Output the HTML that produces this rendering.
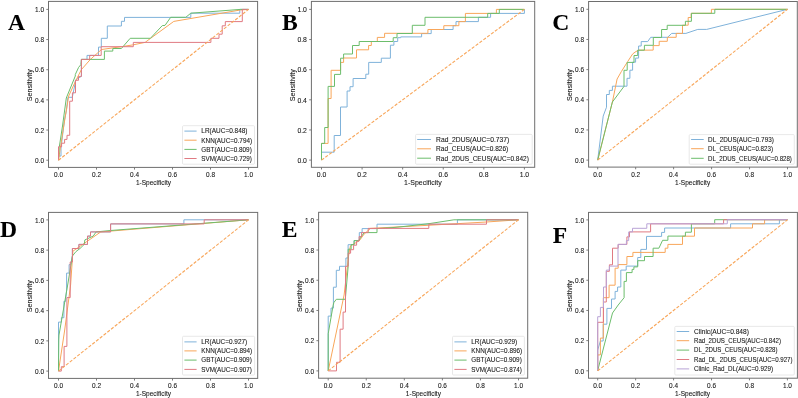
<!DOCTYPE html>
<html><head><meta charset="utf-8"><style>
html,body{margin:0;padding:0;background:#fff;width:798px;height:398px;overflow:hidden}
svg{display:block;will-change:transform}
text{font-family:"Liberation Sans",sans-serif;font-size:6.7px;fill:#151515;stroke:#151515;stroke-width:0.08px}
text.big{font-family:"Liberation Serif",serif;font-weight:bold;font-size:23.6px;fill:#000}
</style></head><body>
<svg width="798" height="398" viewBox="0 0 798 398">
<path d="M58.5,160.2 L58.5,156.0 L61.0,156.0 L61.0,148.0 L62.5,136.0 L64.5,120.0 L66.5,110.0 L67.9,97.3 L72.3,97.3 L74.6,86.0 L75.4,80.3 L78.5,78.0 L81.4,76.4 L81.4,59.4 L87.0,59.4 L87.0,55.4 L98.5,55.4 L98.5,47.1 L101.3,47.1 L101.3,38.3 L107.3,38.3 L107.3,26.0 L121.4,26.0 L121.4,21.3 L124.5,21.3 L124.5,17.4 L190.8,17.4 L190.8,13.2 L239.8,13.2 L239.8,9.4 L248.5,9.4" fill="none" stroke="#7fb2da" stroke-width="1" stroke-linejoin="miter"/>
<path d="M58.5,160.2 L63.4,128.0 L68.7,96.0 L75.6,81.0 L81.4,69.6 L90.4,59.4 L101.5,49.5 L121.4,46.7 L132.8,44.9 L145.1,42.4 L150.5,38.4 L173.8,21.4 L240.4,10.0 L248.5,9.4" fill="none" stroke="#f8a65a" stroke-width="1" stroke-linejoin="miter"/>
<path d="M58.5,160.2 L59.2,147.5 L62.5,126.0 L66.3,98.0 L75.3,76.0 L75.3,74.5 L78.6,67.4 L80.9,64.6 L81.4,59.4 L104.4,59.4 L104.4,51.1 L112.8,51.1 L112.8,48.5 L121.4,48.5 L130.2,38.3 L150.4,38.3 L162.3,25.6 L165.0,25.4 L170.7,17.3 L185.8,17.3 L190.8,13.2 L240.4,9.4 L248.5,9.4" fill="none" stroke="#6cbd6c" stroke-width="1" stroke-linejoin="miter"/>
<path d="M58.5,160.2 L58.5,146.8 L61.6,146.8 L61.6,143.2 L64.6,143.2 L64.6,139.4 L67.0,139.4 L67.0,135.3 L69.7,135.3 L69.7,101.2 L72.4,101.2 L72.4,92.8 L75.5,92.8 L75.5,80.3 L78.5,80.3 L78.5,76.4 L81.4,76.4 L81.4,59.4 L89.7,59.4 L89.7,55.4 L101.2,55.4 L101.2,46.7 L133.3,46.7 L133.3,42.4 L210.9,42.4 L210.9,38.3 L219.0,38.3 L219.0,34.2 L222.2,34.2 L222.2,25.8 L225.3,25.8 L225.3,21.6 L242.3,21.6 L242.3,9.4 L248.5,9.4" fill="none" stroke="#e07a82" stroke-width="1" stroke-linejoin="miter"/>
<line x1="58.50" y1="160.20" x2="248.50" y2="9.40" stroke="#f8a65a" stroke-width="1.1" stroke-dasharray="3.2,1.6"/>
<rect x="182.5" y="125.7" width="72.0" height="38.5" rx="1" fill="#fff" fill-opacity="0.8" stroke="#e2e2e2" stroke-width="0.8"/>
<line x1="184.4" y1="131.1" x2="196.6" y2="131.1" stroke="#7fb2da" stroke-width="1"/>
<text x="201.3" y="133.4" textLength="46.2" lengthAdjust="spacingAndGlyphs">LR(AUC=0.848)</text>
<line x1="184.4" y1="140.2" x2="196.6" y2="140.2" stroke="#f8a65a" stroke-width="1"/>
<text x="201.3" y="142.5" textLength="50.8" lengthAdjust="spacingAndGlyphs">KNN(AUC=0.794)</text>
<line x1="184.4" y1="149.4" x2="196.6" y2="149.4" stroke="#6cbd6c" stroke-width="1"/>
<text x="201.3" y="151.7" textLength="50.5" lengthAdjust="spacingAndGlyphs">GBT(AUC=0.809)</text>
<line x1="184.4" y1="158.5" x2="196.6" y2="158.5" stroke="#e07a82" stroke-width="1"/>
<text x="201.3" y="160.8" textLength="50.5" lengthAdjust="spacingAndGlyphs">SVM(AUC=0.729)</text>
<rect x="48.5" y="1.4" width="209.1" height="166.0" fill="none" stroke="#6e6e6e" stroke-width="1"/>
<line x1="46.3" y1="160.20" x2="48.5" y2="160.20" stroke="#6e6e6e" stroke-width="0.9"/>
<line x1="58.50" y1="167.4" x2="58.50" y2="169.6" stroke="#6e6e6e" stroke-width="0.9"/>
<text x="44.0" y="163" text-anchor="end" textLength="9.0" lengthAdjust="spacingAndGlyphs">0.0</text>
<text x="58.5" y="177" text-anchor="middle" textLength="9.0" lengthAdjust="spacingAndGlyphs">0.0</text>
<line x1="46.3" y1="130.04" x2="48.5" y2="130.04" stroke="#6e6e6e" stroke-width="0.9"/>
<line x1="96.50" y1="167.4" x2="96.50" y2="169.6" stroke="#6e6e6e" stroke-width="0.9"/>
<text x="44.0" y="133" text-anchor="end" textLength="9.0" lengthAdjust="spacingAndGlyphs">0.2</text>
<text x="96.5" y="177" text-anchor="middle" textLength="9.0" lengthAdjust="spacingAndGlyphs">0.2</text>
<line x1="46.3" y1="99.88" x2="48.5" y2="99.88" stroke="#6e6e6e" stroke-width="0.9"/>
<line x1="134.50" y1="167.4" x2="134.50" y2="169.6" stroke="#6e6e6e" stroke-width="0.9"/>
<text x="44.0" y="103" text-anchor="end" textLength="9.0" lengthAdjust="spacingAndGlyphs">0.4</text>
<text x="134.5" y="177" text-anchor="middle" textLength="9.0" lengthAdjust="spacingAndGlyphs">0.4</text>
<line x1="46.3" y1="69.72" x2="48.5" y2="69.72" stroke="#6e6e6e" stroke-width="0.9"/>
<line x1="172.50" y1="167.4" x2="172.50" y2="169.6" stroke="#6e6e6e" stroke-width="0.9"/>
<text x="44.0" y="72" text-anchor="end" textLength="9.0" lengthAdjust="spacingAndGlyphs">0.6</text>
<text x="172.5" y="177" text-anchor="middle" textLength="9.0" lengthAdjust="spacingAndGlyphs">0.6</text>
<line x1="46.3" y1="39.56" x2="48.5" y2="39.56" stroke="#6e6e6e" stroke-width="0.9"/>
<line x1="210.50" y1="167.4" x2="210.50" y2="169.6" stroke="#6e6e6e" stroke-width="0.9"/>
<text x="44.0" y="42" text-anchor="end" textLength="9.0" lengthAdjust="spacingAndGlyphs">0.8</text>
<text x="210.5" y="177" text-anchor="middle" textLength="9.0" lengthAdjust="spacingAndGlyphs">0.8</text>
<line x1="46.3" y1="9.40" x2="48.5" y2="9.40" stroke="#6e6e6e" stroke-width="0.9"/>
<line x1="248.50" y1="167.4" x2="248.50" y2="169.6" stroke="#6e6e6e" stroke-width="0.9"/>
<text x="44.0" y="12" text-anchor="end" textLength="9.0" lengthAdjust="spacingAndGlyphs">1.0</text>
<text x="248.5" y="177" text-anchor="middle" textLength="9.0" lengthAdjust="spacingAndGlyphs">1.0</text>
<text x="153.5" y="185.3" text-anchor="middle" textLength="35.1" lengthAdjust="spacingAndGlyphs">1-Specificity</text>
<text transform="translate(32.2,85.2) rotate(-90)" x="0" y="0" text-anchor="middle" textLength="32.0" lengthAdjust="spacingAndGlyphs">Sensitivity</text>
<text class="big" x="7.9" y="29.7">A</text>
<path d="M321.5,160.1 L321.5,152.2 L334.2,152.2 L334.2,135.5 L340.5,135.5 L340.5,107.0 L347.1,107.0 L347.1,91.0 L350.0,91.0 L350.0,86.7 L353.1,86.7 L353.1,78.5 L365.8,78.5 L365.8,74.2 L368.7,74.2 L368.7,62.4 L381.3,62.4 L381.3,58.2 L390.4,58.2 L390.4,45.2 L393.9,45.2 L393.9,41.5 L397.7,41.5 L397.7,37.7 L400.7,37.7 L400.7,36.9 L421.6,36.9 L421.6,33.6 L431.2,33.6 L431.2,29.5 L453.1,29.5 L453.1,25.7 L456.0,25.7 L456.0,21.6 L478.4,21.6 L478.4,17.3 L490.6,17.3 L490.6,13.4 L524.4,13.4 L524.4,9.4" fill="none" stroke="#7fb2da" stroke-width="1" stroke-linejoin="miter"/>
<path d="M321.5,160.1 L321.5,143.4 L328.1,143.4 L328.1,98.5 L331.1,98.5 L331.1,70.3 L340.6,70.3 L340.6,62.4 L343.6,62.4 L343.6,58.0 L356.5,58.0 L356.5,49.8 L368.6,49.8 L368.6,45.5 L371.3,45.5 L371.3,41.5 L377.3,41.5 L377.3,37.4 L384.6,37.4 L384.6,33.3 L427.9,33.3 L427.9,29.5 L443.8,29.5 L443.8,25.7 L458.9,25.7 L458.9,21.6 L465.4,21.6 L465.4,13.4 L496.4,13.4 L496.4,9.4 L524.4,9.4" fill="none" stroke="#f8a65a" stroke-width="1" stroke-linejoin="miter"/>
<path d="M321.5,160.1 L321.5,143.4 L324.7,143.4 L324.7,127.5 L328.1,127.5 L328.1,86.4 L334.5,86.4 L334.5,74.4 L340.6,74.4 L340.6,58.2 L343.6,58.2 L343.6,54.0 L352.5,54.0 L352.5,45.5 L359.2,45.5 L359.2,41.5 L393.2,41.5 L393.2,37.7 L397.0,37.7 L397.0,33.5 L412.3,33.5 L412.3,25.3 L425.0,25.3 L425.0,17.3 L487.7,17.3 L487.7,13.4 L499.3,13.4 L499.3,9.4 L524.4,9.4" fill="none" stroke="#6cbd6c" stroke-width="1" stroke-linejoin="miter"/>
<line x1="321.50" y1="160.10" x2="524.40" y2="9.40" stroke="#f8a65a" stroke-width="1.1" stroke-dasharray="3.2,1.6"/>
<rect x="415.6" y="134.4" width="116.6" height="29.8" rx="1" fill="#fff" fill-opacity="0.8" stroke="#e2e2e2" stroke-width="0.8"/>
<line x1="417.2" y1="139.5" x2="431.0" y2="139.5" stroke="#7fb2da" stroke-width="1"/>
<text x="436.1" y="141.8" textLength="73.2" lengthAdjust="spacingAndGlyphs">Rad_2DUS(AUC=0.737)</text>
<line x1="417.2" y1="148.8" x2="431.0" y2="148.8" stroke="#f8a65a" stroke-width="1"/>
<text x="436.1" y="151.1" textLength="72.2" lengthAdjust="spacingAndGlyphs">Rad_CEUS(AUC=0.826)</text>
<line x1="417.2" y1="158.2" x2="431.0" y2="158.2" stroke="#6cbd6c" stroke-width="1"/>
<text x="436.1" y="160.5" textLength="92.8" lengthAdjust="spacingAndGlyphs">Rad_2DUS_CEUS(AUC=0.842)</text>
<rect x="311.4" y="1.4" width="223.3" height="165.9" fill="none" stroke="#6e6e6e" stroke-width="1"/>
<line x1="309.2" y1="160.10" x2="311.4" y2="160.10" stroke="#6e6e6e" stroke-width="0.9"/>
<line x1="321.50" y1="167.35" x2="321.50" y2="169.5" stroke="#6e6e6e" stroke-width="0.9"/>
<text x="306.9" y="163" text-anchor="end" textLength="9.5" lengthAdjust="spacingAndGlyphs">0.0</text>
<text x="321.5" y="177" text-anchor="middle" textLength="9.5" lengthAdjust="spacingAndGlyphs">0.0</text>
<line x1="309.2" y1="129.96" x2="311.4" y2="129.96" stroke="#6e6e6e" stroke-width="0.9"/>
<line x1="362.08" y1="167.35" x2="362.08" y2="169.5" stroke="#6e6e6e" stroke-width="0.9"/>
<text x="306.9" y="133" text-anchor="end" textLength="9.5" lengthAdjust="spacingAndGlyphs">0.2</text>
<text x="362.1" y="177" text-anchor="middle" textLength="9.5" lengthAdjust="spacingAndGlyphs">0.2</text>
<line x1="309.2" y1="99.82" x2="311.4" y2="99.82" stroke="#6e6e6e" stroke-width="0.9"/>
<line x1="402.66" y1="167.35" x2="402.66" y2="169.5" stroke="#6e6e6e" stroke-width="0.9"/>
<text x="306.9" y="103" text-anchor="end" textLength="9.5" lengthAdjust="spacingAndGlyphs">0.4</text>
<text x="402.7" y="177" text-anchor="middle" textLength="9.5" lengthAdjust="spacingAndGlyphs">0.4</text>
<line x1="309.2" y1="69.68" x2="311.4" y2="69.68" stroke="#6e6e6e" stroke-width="0.9"/>
<line x1="443.24" y1="167.35" x2="443.24" y2="169.5" stroke="#6e6e6e" stroke-width="0.9"/>
<text x="306.9" y="72" text-anchor="end" textLength="9.5" lengthAdjust="spacingAndGlyphs">0.6</text>
<text x="443.2" y="177" text-anchor="middle" textLength="9.5" lengthAdjust="spacingAndGlyphs">0.6</text>
<line x1="309.2" y1="39.54" x2="311.4" y2="39.54" stroke="#6e6e6e" stroke-width="0.9"/>
<line x1="483.82" y1="167.35" x2="483.82" y2="169.5" stroke="#6e6e6e" stroke-width="0.9"/>
<text x="306.9" y="42" text-anchor="end" textLength="9.5" lengthAdjust="spacingAndGlyphs">0.8</text>
<text x="483.8" y="177" text-anchor="middle" textLength="9.5" lengthAdjust="spacingAndGlyphs">0.8</text>
<line x1="309.2" y1="9.40" x2="311.4" y2="9.40" stroke="#6e6e6e" stroke-width="0.9"/>
<line x1="524.40" y1="167.35" x2="524.40" y2="169.5" stroke="#6e6e6e" stroke-width="0.9"/>
<text x="306.9" y="12" text-anchor="end" textLength="9.5" lengthAdjust="spacingAndGlyphs">1.0</text>
<text x="524.4" y="177" text-anchor="middle" textLength="9.5" lengthAdjust="spacingAndGlyphs">1.0</text>
<text x="422.9" y="185.2" text-anchor="middle" textLength="37.6" lengthAdjust="spacingAndGlyphs">1-Specificity</text>
<text transform="translate(295.1,85.2) rotate(-90)" x="0" y="0" text-anchor="middle" textLength="32.0" lengthAdjust="spacingAndGlyphs">Sensitivity</text>
<text class="big" x="281.9" y="30.0">B</text>
<path d="M597.7,160.1 L603.2,116.1 L606.5,107.2 L606.5,94.5 L609.3,94.5 L609.3,90.4 L612.4,90.4 L612.4,86.2 L627.0,86.2 L627.0,78.3 L629.9,78.3 L629.9,70.2 L632.6,70.2 L632.6,62.2 L635.6,62.2 L635.6,58.1 L638.6,58.1 L638.6,46.0 L641.2,46.0 L641.2,41.6 L647.7,41.6 L650.7,37.3 L667.6,37.3 L671.7,33.4 L685.9,33.4 L697.8,29.4 L706.7,29.4 L787.5,9.3" fill="none" stroke="#7fb2da" stroke-width="1" stroke-linejoin="miter"/>
<path d="M597.7,160.1 L612.4,102.0 L617.1,79.0 L621.4,71.5 L627.7,61.5 L632.7,53.9 L636.0,51.5 L638.6,50.2 L653.2,50.1 L653.2,45.6 L659.2,45.6 L659.2,41.3 L667.3,41.3 L667.3,37.3 L676.2,37.3 L676.2,33.4 L682.5,33.4 L682.5,25.2 L688.2,25.2 L688.2,17.5 L691.2,17.5 L691.2,13.3 L711.4,13.3 L711.4,9.3 L787.5,9.3" fill="none" stroke="#f8a65a" stroke-width="1" stroke-linejoin="miter"/>
<path d="M597.7,160.1 L612.4,102.0 L624.0,86.4 L624.0,70.3 L627.2,70.3 L627.2,62.4 L634.0,62.4 L634.0,55.5 L637.7,55.5 L637.7,50.2 L644.4,50.2 L644.4,45.3 L653.3,45.3 L653.3,37.5 L661.6,37.5 L661.6,29.5 L667.2,29.5 L667.2,25.3 L685.4,25.3 L685.4,21.3 L691.4,21.3 L691.4,13.3 L714.8,13.3 L714.8,9.3 L787.5,9.3" fill="none" stroke="#6cbd6c" stroke-width="1" stroke-linejoin="miter"/>
<line x1="597.70" y1="160.10" x2="787.50" y2="9.30" stroke="#f8a65a" stroke-width="1.1" stroke-dasharray="3.2,1.6"/>
<rect x="689.2" y="134.6" width="105.1" height="29.6" rx="1" fill="#fff" fill-opacity="0.8" stroke="#e2e2e2" stroke-width="0.8"/>
<line x1="691.1" y1="139.5" x2="703.7" y2="139.5" stroke="#7fb2da" stroke-width="1"/>
<text x="708.1" y="141.8" textLength="65.7" lengthAdjust="spacingAndGlyphs">DL_2DUS(AUC=0.793)</text>
<line x1="691.1" y1="148.7" x2="703.7" y2="148.7" stroke="#f8a65a" stroke-width="1"/>
<text x="708.1" y="151.0" textLength="64.9" lengthAdjust="spacingAndGlyphs">DL_CEUS(AUC=0.823)</text>
<line x1="691.1" y1="158.3" x2="703.7" y2="158.3" stroke="#6cbd6c" stroke-width="1"/>
<text x="708.1" y="160.6" textLength="83.8" lengthAdjust="spacingAndGlyphs">DL_2DUS_CEUS(AUC=0.828)</text>
<rect x="588.6" y="1.5" width="208.7" height="165.6" fill="none" stroke="#6e6e6e" stroke-width="1"/>
<line x1="586.4" y1="160.10" x2="588.6" y2="160.10" stroke="#6e6e6e" stroke-width="0.9"/>
<line x1="597.70" y1="167.1" x2="597.70" y2="169.3" stroke="#6e6e6e" stroke-width="0.9"/>
<text x="584.1" y="163" text-anchor="end" textLength="9.0" lengthAdjust="spacingAndGlyphs">0.0</text>
<text x="597.7" y="177" text-anchor="middle" textLength="9.0" lengthAdjust="spacingAndGlyphs">0.0</text>
<line x1="586.4" y1="129.94" x2="588.6" y2="129.94" stroke="#6e6e6e" stroke-width="0.9"/>
<line x1="635.66" y1="167.1" x2="635.66" y2="169.3" stroke="#6e6e6e" stroke-width="0.9"/>
<text x="584.1" y="133" text-anchor="end" textLength="9.0" lengthAdjust="spacingAndGlyphs">0.2</text>
<text x="635.7" y="177" text-anchor="middle" textLength="9.0" lengthAdjust="spacingAndGlyphs">0.2</text>
<line x1="586.4" y1="99.78" x2="588.6" y2="99.78" stroke="#6e6e6e" stroke-width="0.9"/>
<line x1="673.62" y1="167.1" x2="673.62" y2="169.3" stroke="#6e6e6e" stroke-width="0.9"/>
<text x="584.1" y="102" text-anchor="end" textLength="9.0" lengthAdjust="spacingAndGlyphs">0.4</text>
<text x="673.6" y="177" text-anchor="middle" textLength="9.0" lengthAdjust="spacingAndGlyphs">0.4</text>
<line x1="586.4" y1="69.62" x2="588.6" y2="69.62" stroke="#6e6e6e" stroke-width="0.9"/>
<line x1="711.58" y1="167.1" x2="711.58" y2="169.3" stroke="#6e6e6e" stroke-width="0.9"/>
<text x="584.1" y="72" text-anchor="end" textLength="9.0" lengthAdjust="spacingAndGlyphs">0.6</text>
<text x="711.6" y="177" text-anchor="middle" textLength="9.0" lengthAdjust="spacingAndGlyphs">0.6</text>
<line x1="586.4" y1="39.46" x2="588.6" y2="39.46" stroke="#6e6e6e" stroke-width="0.9"/>
<line x1="749.54" y1="167.1" x2="749.54" y2="169.3" stroke="#6e6e6e" stroke-width="0.9"/>
<text x="584.1" y="42" text-anchor="end" textLength="9.0" lengthAdjust="spacingAndGlyphs">0.8</text>
<text x="749.5" y="177" text-anchor="middle" textLength="9.0" lengthAdjust="spacingAndGlyphs">0.8</text>
<line x1="586.4" y1="9.30" x2="588.6" y2="9.30" stroke="#6e6e6e" stroke-width="0.9"/>
<line x1="787.50" y1="167.1" x2="787.50" y2="169.3" stroke="#6e6e6e" stroke-width="0.9"/>
<text x="584.1" y="12" text-anchor="end" textLength="9.0" lengthAdjust="spacingAndGlyphs">1.0</text>
<text x="787.5" y="177" text-anchor="middle" textLength="9.0" lengthAdjust="spacingAndGlyphs">1.0</text>
<text x="692.6" y="185.0" text-anchor="middle" textLength="35.1" lengthAdjust="spacingAndGlyphs">1-Specificity</text>
<text transform="translate(572.3,85.1) rotate(-90)" x="0" y="0" text-anchor="middle" textLength="32.0" lengthAdjust="spacingAndGlyphs">Sensitivity</text>
<text class="big" x="552.2" y="30.1">C</text>
<path d="M58.5,371.1 L58.5,322.1 L61.4,322.1 L61.4,317.7 L63.9,317.7 L63.9,301.4 L65.5,301.4 L66.6,290.0 L66.6,273.1 L69.1,273.1 L69.1,264.6 L70.6,264.6 L72.4,255.7 L72.4,248.5 L78.9,248.5 L78.9,244.4 L87.5,244.4 L87.5,236.1 L90.5,236.1 L90.5,231.9 L110.6,231.9 L110.6,223.9 L183.9,223.9 L183.9,219.8 L248.5,219.8" fill="none" stroke="#7fb2da" stroke-width="1" stroke-linejoin="miter"/>
<path d="M58.5,371.1 L64.7,330.0 L70.6,285.0 L72.9,251.2 L100.8,231.9 L248.5,219.8" fill="none" stroke="#f8a65a" stroke-width="1" stroke-linejoin="miter"/>
<path d="M58.5,371.1 L58.8,340.0 L59.0,335.0 L67.5,286.0 L72.4,256.0 L76.0,251.5 L80.0,248.5 L84.2,244.4 L84.9,239.9 L93.2,236.1 L96.2,231.9 L110.6,230.5 L248.5,219.8" fill="none" stroke="#6cbd6c" stroke-width="1" stroke-linejoin="miter"/>
<path d="M58.5,371.1 L61.3,371.1 L61.3,366.7 L64.1,366.7 L64.1,346.4 L66.9,346.4 L66.9,297.6 L70.2,297.6 L70.2,262.0 L72.4,262.0 L72.4,248.5 L78.9,248.5 L78.9,244.4 L87.5,244.4 L87.5,236.1 L90.5,236.1 L90.5,231.9 L110.6,231.9 L110.6,223.9 L204.2,223.9 L204.2,219.8 L248.5,219.8" fill="none" stroke="#e07a82" stroke-width="1" stroke-linejoin="miter"/>
<line x1="58.50" y1="371.10" x2="248.50" y2="219.90" stroke="#f8a65a" stroke-width="1.1" stroke-dasharray="3.2,1.6"/>
<rect x="182.5" y="336.3" width="72.1" height="38.7" rx="1" fill="#fff" fill-opacity="0.8" stroke="#e2e2e2" stroke-width="0.8"/>
<line x1="184.4" y1="341.9" x2="196.6" y2="341.9" stroke="#7fb2da" stroke-width="1"/>
<text x="201.3" y="344.2" textLength="45.9" lengthAdjust="spacingAndGlyphs">LR(AUC=0.927)</text>
<line x1="184.4" y1="350.9" x2="196.6" y2="350.9" stroke="#f8a65a" stroke-width="1"/>
<text x="201.3" y="353.2" textLength="50.9" lengthAdjust="spacingAndGlyphs">KNN(AUC=0.894)</text>
<line x1="184.4" y1="360.1" x2="196.6" y2="360.1" stroke="#6cbd6c" stroke-width="1"/>
<text x="201.3" y="362.4" textLength="50.5" lengthAdjust="spacingAndGlyphs">GBT(AUC=0.909)</text>
<line x1="184.4" y1="369.4" x2="196.6" y2="369.4" stroke="#e07a82" stroke-width="1"/>
<text x="201.3" y="371.7" textLength="50.6" lengthAdjust="spacingAndGlyphs">SVM(AUC=0.907)</text>
<rect x="48.5" y="212.4" width="209.2" height="166.0" fill="none" stroke="#6e6e6e" stroke-width="1"/>
<line x1="46.3" y1="371.10" x2="48.5" y2="371.10" stroke="#6e6e6e" stroke-width="0.9"/>
<line x1="58.50" y1="378.4" x2="58.50" y2="380.6" stroke="#6e6e6e" stroke-width="0.9"/>
<text x="44.0" y="374" text-anchor="end" textLength="9.0" lengthAdjust="spacingAndGlyphs">0.0</text>
<text x="58.5" y="388" text-anchor="middle" textLength="9.0" lengthAdjust="spacingAndGlyphs">0.0</text>
<line x1="46.3" y1="340.86" x2="48.5" y2="340.86" stroke="#6e6e6e" stroke-width="0.9"/>
<line x1="96.50" y1="378.4" x2="96.50" y2="380.6" stroke="#6e6e6e" stroke-width="0.9"/>
<text x="44.0" y="344" text-anchor="end" textLength="9.0" lengthAdjust="spacingAndGlyphs">0.2</text>
<text x="96.5" y="388" text-anchor="middle" textLength="9.0" lengthAdjust="spacingAndGlyphs">0.2</text>
<line x1="46.3" y1="310.62" x2="48.5" y2="310.62" stroke="#6e6e6e" stroke-width="0.9"/>
<line x1="134.50" y1="378.4" x2="134.50" y2="380.6" stroke="#6e6e6e" stroke-width="0.9"/>
<text x="44.0" y="313" text-anchor="end" textLength="9.0" lengthAdjust="spacingAndGlyphs">0.4</text>
<text x="134.5" y="388" text-anchor="middle" textLength="9.0" lengthAdjust="spacingAndGlyphs">0.4</text>
<line x1="46.3" y1="280.38" x2="48.5" y2="280.38" stroke="#6e6e6e" stroke-width="0.9"/>
<line x1="172.50" y1="378.4" x2="172.50" y2="380.6" stroke="#6e6e6e" stroke-width="0.9"/>
<text x="44.0" y="283" text-anchor="end" textLength="9.0" lengthAdjust="spacingAndGlyphs">0.6</text>
<text x="172.5" y="388" text-anchor="middle" textLength="9.0" lengthAdjust="spacingAndGlyphs">0.6</text>
<line x1="46.3" y1="250.14" x2="48.5" y2="250.14" stroke="#6e6e6e" stroke-width="0.9"/>
<line x1="210.50" y1="378.4" x2="210.50" y2="380.6" stroke="#6e6e6e" stroke-width="0.9"/>
<text x="44.0" y="253" text-anchor="end" textLength="9.0" lengthAdjust="spacingAndGlyphs">0.8</text>
<text x="210.5" y="388" text-anchor="middle" textLength="9.0" lengthAdjust="spacingAndGlyphs">0.8</text>
<line x1="46.3" y1="219.90" x2="48.5" y2="219.90" stroke="#6e6e6e" stroke-width="0.9"/>
<line x1="248.50" y1="378.4" x2="248.50" y2="380.6" stroke="#6e6e6e" stroke-width="0.9"/>
<text x="44.0" y="223" text-anchor="end" textLength="9.0" lengthAdjust="spacingAndGlyphs">1.0</text>
<text x="248.5" y="388" text-anchor="middle" textLength="9.0" lengthAdjust="spacingAndGlyphs">1.0</text>
<text x="153.5" y="396.3" text-anchor="middle" textLength="35.1" lengthAdjust="spacingAndGlyphs">1-Specificity</text>
<text transform="translate(32.2,296.2) rotate(-90)" x="0" y="0" text-anchor="middle" textLength="32.0" lengthAdjust="spacingAndGlyphs">Sensitivity</text>
<text class="big" x="0.1" y="236.7">D</text>
<path d="M328.2,370.9 L328.2,316.1 L331.0,316.1 L331.0,308.1 L333.4,308.1 L333.4,287.2 L336.3,287.2 L336.3,270.3 L339.5,270.3 L339.5,266.3 L345.9,266.3 L345.9,258.0 L348.1,258.0 L348.1,244.7 L354.1,244.7 L354.1,240.6 L359.3,240.6 L359.3,232.6 L362.1,232.6 L362.1,228.6 L377.0,228.6 L377.0,224.2 L457.4,224.2 L457.4,219.8 L518.5,219.8" fill="none" stroke="#7fb2da" stroke-width="1" stroke-linejoin="miter"/>
<path d="M328.2,370.9 L344.1,295.0 L348.7,255.0 L350.4,246.0 L359.5,240.5 L364.1,234.1 L370.5,228.4 L430.0,225.2 L486.5,222.0 L518.5,219.8" fill="none" stroke="#f8a65a" stroke-width="1" stroke-linejoin="miter"/>
<path d="M328.2,370.9 L328.2,333.8 L333.1,305.5 L333.9,302.5 L336.3,299.3 L345.3,299.3 L348.2,266.3 L348.2,249.2 L351.1,249.2 L351.1,244.6 L354.1,244.6 L354.1,240.6 L358.6,240.6 L364.1,232.6 L377.0,232.6 L377.0,228.6 L395.0,227.4 L410.0,225.8 L430.0,223.5 L453.9,219.8 L518.5,219.8" fill="none" stroke="#6cbd6c" stroke-width="1" stroke-linejoin="miter"/>
<path d="M328.2,370.9 L336.5,370.9 L336.5,362.3 L340.1,362.3 L340.1,329.2 L343.1,329.2 L343.1,312.1 L345.5,312.1 L345.5,266.3 L348.2,266.3 L348.2,253.2 L350.6,253.2 L350.6,249.7 L353.6,249.7 L353.6,245.2 L356.6,245.2 L356.6,241.1 L359.1,241.1 L359.1,236.6 L361.6,236.6 L361.6,232.6 L368.2,232.6 L368.2,228.4 L428.8,228.4 L428.8,224.2 L486.5,224.2 L486.5,219.8 L518.5,219.8" fill="none" stroke="#e07a82" stroke-width="1" stroke-linejoin="miter"/>
<line x1="328.20" y1="370.90" x2="518.50" y2="219.80" stroke="#f8a65a" stroke-width="1.1" stroke-dasharray="3.2,1.6"/>
<rect x="452.5" y="336.3" width="71.9" height="38.7" rx="1" fill="#fff" fill-opacity="0.8" stroke="#e2e2e2" stroke-width="0.8"/>
<line x1="454.4" y1="341.9" x2="466.6" y2="341.9" stroke="#7fb2da" stroke-width="1"/>
<text x="471.3" y="344.2" textLength="45.9" lengthAdjust="spacingAndGlyphs">LR(AUC=0.929)</text>
<line x1="454.4" y1="350.9" x2="466.6" y2="350.9" stroke="#f8a65a" stroke-width="1"/>
<text x="471.3" y="353.2" textLength="50.9" lengthAdjust="spacingAndGlyphs">KNN(AUC=0.896)</text>
<line x1="454.4" y1="360.1" x2="466.6" y2="360.1" stroke="#6cbd6c" stroke-width="1"/>
<text x="471.3" y="362.4" textLength="50.5" lengthAdjust="spacingAndGlyphs">GBT(AUC=0.909)</text>
<line x1="454.4" y1="369.4" x2="466.6" y2="369.4" stroke="#e07a82" stroke-width="1"/>
<text x="471.3" y="371.7" textLength="50.6" lengthAdjust="spacingAndGlyphs">SVM(AUC=0.874)</text>
<rect x="318.6" y="212.3" width="209.1" height="165.9" fill="none" stroke="#6e6e6e" stroke-width="1"/>
<line x1="316.4" y1="370.90" x2="318.6" y2="370.90" stroke="#6e6e6e" stroke-width="0.9"/>
<line x1="328.20" y1="378.2" x2="328.20" y2="380.4" stroke="#6e6e6e" stroke-width="0.9"/>
<text x="314.1" y="374" text-anchor="end" textLength="9.0" lengthAdjust="spacingAndGlyphs">0.0</text>
<text x="328.2" y="388" text-anchor="middle" textLength="9.0" lengthAdjust="spacingAndGlyphs">0.0</text>
<line x1="316.4" y1="340.68" x2="318.6" y2="340.68" stroke="#6e6e6e" stroke-width="0.9"/>
<line x1="366.26" y1="378.2" x2="366.26" y2="380.4" stroke="#6e6e6e" stroke-width="0.9"/>
<text x="314.1" y="343" text-anchor="end" textLength="9.0" lengthAdjust="spacingAndGlyphs">0.2</text>
<text x="366.3" y="388" text-anchor="middle" textLength="9.0" lengthAdjust="spacingAndGlyphs">0.2</text>
<line x1="316.4" y1="310.46" x2="318.6" y2="310.46" stroke="#6e6e6e" stroke-width="0.9"/>
<line x1="404.32" y1="378.2" x2="404.32" y2="380.4" stroke="#6e6e6e" stroke-width="0.9"/>
<text x="314.1" y="313" text-anchor="end" textLength="9.0" lengthAdjust="spacingAndGlyphs">0.4</text>
<text x="404.3" y="388" text-anchor="middle" textLength="9.0" lengthAdjust="spacingAndGlyphs">0.4</text>
<line x1="316.4" y1="280.24" x2="318.6" y2="280.24" stroke="#6e6e6e" stroke-width="0.9"/>
<line x1="442.38" y1="378.2" x2="442.38" y2="380.4" stroke="#6e6e6e" stroke-width="0.9"/>
<text x="314.1" y="283" text-anchor="end" textLength="9.0" lengthAdjust="spacingAndGlyphs">0.6</text>
<text x="442.4" y="388" text-anchor="middle" textLength="9.0" lengthAdjust="spacingAndGlyphs">0.6</text>
<line x1="316.4" y1="250.02" x2="318.6" y2="250.02" stroke="#6e6e6e" stroke-width="0.9"/>
<line x1="480.44" y1="378.2" x2="480.44" y2="380.4" stroke="#6e6e6e" stroke-width="0.9"/>
<text x="314.1" y="253" text-anchor="end" textLength="9.0" lengthAdjust="spacingAndGlyphs">0.8</text>
<text x="480.4" y="388" text-anchor="middle" textLength="9.0" lengthAdjust="spacingAndGlyphs">0.8</text>
<line x1="316.4" y1="219.80" x2="318.6" y2="219.80" stroke="#6e6e6e" stroke-width="0.9"/>
<line x1="518.50" y1="378.2" x2="518.50" y2="380.4" stroke="#6e6e6e" stroke-width="0.9"/>
<text x="314.1" y="223" text-anchor="end" textLength="9.0" lengthAdjust="spacingAndGlyphs">1.0</text>
<text x="518.5" y="388" text-anchor="middle" textLength="9.0" lengthAdjust="spacingAndGlyphs">1.0</text>
<text x="423.4" y="396.1" text-anchor="middle" textLength="35.1" lengthAdjust="spacingAndGlyphs">1-Specificity</text>
<text transform="translate(302.3,296.1) rotate(-90)" x="0" y="0" text-anchor="middle" textLength="32.0" lengthAdjust="spacingAndGlyphs">Sensitivity</text>
<text class="big" x="281.7" y="236.9">E</text>
<path d="M597.7,370.6 L597.7,350.0 L600.4,341.0 L603.2,341.0 L603.2,324.2 L606.9,324.2 L606.9,308.4 L611.5,308.4 L611.5,299.0 L615.1,299.0 L615.1,291.4 L617.6,291.4 L617.6,287.0 L620.8,287.0 L620.8,270.1 L626.2,270.1 L626.2,266.1 L637.7,266.1 L637.7,257.5 L640.8,257.5 L640.8,249.4 L646.5,249.4 L646.5,236.4 L661.6,236.4 L661.6,232.4 L664.6,232.4 L664.6,228.0 L730.6,228.0 L730.6,223.8 L779.4,223.8 L779.4,219.7 L787.4,219.7" fill="none" stroke="#7fb2da" stroke-width="1" stroke-linejoin="miter"/>
<path d="M597.7,370.6 L597.7,354.9 L600.4,354.9 L600.4,338.1 L603.3,338.1 L603.3,297.7 L609.1,297.7 L609.1,285.2 L615.1,285.2 L615.1,268.2 L618.2,268.2 L618.2,264.6 L626.9,264.6 L626.9,256.5 L632.9,256.5 L632.9,252.4 L665.2,252.4 L665.2,248.2 L667.9,248.2 L667.9,244.4 L682.5,244.4 L682.5,236.2 L694.5,236.2 L694.5,228.0 L752.5,228.0 L752.5,223.8 L764.6,223.8 L764.6,219.7 L787.4,219.7" fill="none" stroke="#f8a65a" stroke-width="1" stroke-linejoin="miter"/>
<path d="M597.7,370.6 L612.5,313.0 L618.2,305.0 L624.1,297.7 L624.1,281.4 L626.4,281.4 L626.4,272.6 L632.1,272.6 L632.1,269.4 L633.9,269.4 L633.9,266.9 L637.7,266.9 L637.7,260.7 L644.5,260.7 L644.5,256.5 L653.1,256.5 L653.1,248.2 L658.9,248.2 L662.6,240.3 L667.9,240.3 L667.9,236.1 L685.4,236.1 L685.4,232.2 L691.4,232.2 L691.4,223.8 L714.7,223.8 L714.7,219.7 L787.4,219.7" fill="none" stroke="#6cbd6c" stroke-width="1" stroke-linejoin="miter"/>
<path d="M597.7,370.6 L597.7,322.3 L603.5,322.3 L603.5,302.0 L606.3,302.0 L606.3,271.3 L609.4,271.3 L609.4,264.8 L612.5,264.8 L612.5,248.2 L618.2,248.2 L618.2,244.4 L626.9,244.4 L626.9,236.9 L629.5,236.9 L629.5,231.9 L650.6,231.9 L650.6,223.8 L723.6,223.8 L723.6,219.7 L787.4,219.7" fill="none" stroke="#e07a82" stroke-width="1" stroke-linejoin="miter"/>
<path d="M597.7,370.6 L597.7,316.7 L600.4,316.7 L600.4,307.4 L603.5,307.4 L603.5,287.0 L606.3,287.0 L606.3,270.1 L609.4,270.1 L609.4,266.1 L618.0,266.1 L618.0,244.4 L626.4,244.4 L626.4,240.6 L628.7,240.6 L628.7,231.9 L632.5,231.9 L632.5,228.3 L646.8,228.3 L646.8,223.8 L727.3,223.8 L727.3,219.7 L787.4,219.7" fill="none" stroke="#b9a3d6" stroke-width="1" stroke-linejoin="miter"/>
<line x1="597.70" y1="370.80" x2="787.40" y2="219.90" stroke="#f8a65a" stroke-width="1.1" stroke-dasharray="3.2,1.6"/>
<rect x="674.8" y="326.4" width="119.5" height="48.6" rx="1" fill="#fff" fill-opacity="0.8" stroke="#e2e2e2" stroke-width="0.8"/>
<line x1="676.7" y1="331.5" x2="689.2" y2="331.5" stroke="#7fb2da" stroke-width="1"/>
<text x="694.0" y="333.8" textLength="54.9" lengthAdjust="spacingAndGlyphs">Clinic(AUC=0.848)</text>
<line x1="676.7" y1="340.7" x2="689.2" y2="340.7" stroke="#f8a65a" stroke-width="1"/>
<text x="694.0" y="343.0" textLength="87.0" lengthAdjust="spacingAndGlyphs">Rad_2DUS_CEUS(AUC=0.842)</text>
<line x1="676.7" y1="350.1" x2="689.2" y2="350.1" stroke="#6cbd6c" stroke-width="1"/>
<text x="694.0" y="352.4" textLength="83.5" lengthAdjust="spacingAndGlyphs">DL_2DUS_CEUS(AUC=0.828)</text>
<line x1="676.7" y1="359.5" x2="689.2" y2="359.5" stroke="#e07a82" stroke-width="1"/>
<text x="694.0" y="361.8" textLength="98.5" lengthAdjust="spacingAndGlyphs">Rad_DL_2DUS_CEUS(AUC=0.927)</text>
<line x1="676.7" y1="368.9" x2="689.2" y2="368.9" stroke="#b9a3d6" stroke-width="1"/>
<text x="694.0" y="371.2" textLength="79.0" lengthAdjust="spacingAndGlyphs">Clinic_Rad_DL(AUC=0.929)</text>
<rect x="588.5" y="212.4" width="208.9" height="165.8" fill="none" stroke="#6e6e6e" stroke-width="1"/>
<line x1="586.3" y1="370.80" x2="588.5" y2="370.80" stroke="#6e6e6e" stroke-width="0.9"/>
<line x1="597.70" y1="378.2" x2="597.70" y2="380.4" stroke="#6e6e6e" stroke-width="0.9"/>
<text x="584.0" y="374" text-anchor="end" textLength="9.0" lengthAdjust="spacingAndGlyphs">0.0</text>
<text x="597.7" y="388" text-anchor="middle" textLength="9.0" lengthAdjust="spacingAndGlyphs">0.0</text>
<line x1="586.3" y1="340.62" x2="588.5" y2="340.62" stroke="#6e6e6e" stroke-width="0.9"/>
<line x1="635.64" y1="378.2" x2="635.64" y2="380.4" stroke="#6e6e6e" stroke-width="0.9"/>
<text x="584.0" y="343" text-anchor="end" textLength="9.0" lengthAdjust="spacingAndGlyphs">0.2</text>
<text x="635.6" y="388" text-anchor="middle" textLength="9.0" lengthAdjust="spacingAndGlyphs">0.2</text>
<line x1="586.3" y1="310.44" x2="588.5" y2="310.44" stroke="#6e6e6e" stroke-width="0.9"/>
<line x1="673.58" y1="378.2" x2="673.58" y2="380.4" stroke="#6e6e6e" stroke-width="0.9"/>
<text x="584.0" y="313" text-anchor="end" textLength="9.0" lengthAdjust="spacingAndGlyphs">0.4</text>
<text x="673.6" y="388" text-anchor="middle" textLength="9.0" lengthAdjust="spacingAndGlyphs">0.4</text>
<line x1="586.3" y1="280.26" x2="588.5" y2="280.26" stroke="#6e6e6e" stroke-width="0.9"/>
<line x1="711.52" y1="378.2" x2="711.52" y2="380.4" stroke="#6e6e6e" stroke-width="0.9"/>
<text x="584.0" y="283" text-anchor="end" textLength="9.0" lengthAdjust="spacingAndGlyphs">0.6</text>
<text x="711.5" y="388" text-anchor="middle" textLength="9.0" lengthAdjust="spacingAndGlyphs">0.6</text>
<line x1="586.3" y1="250.08" x2="588.5" y2="250.08" stroke="#6e6e6e" stroke-width="0.9"/>
<line x1="749.46" y1="378.2" x2="749.46" y2="380.4" stroke="#6e6e6e" stroke-width="0.9"/>
<text x="584.0" y="253" text-anchor="end" textLength="9.0" lengthAdjust="spacingAndGlyphs">0.8</text>
<text x="749.5" y="388" text-anchor="middle" textLength="9.0" lengthAdjust="spacingAndGlyphs">0.8</text>
<line x1="586.3" y1="219.90" x2="588.5" y2="219.90" stroke="#6e6e6e" stroke-width="0.9"/>
<line x1="787.40" y1="378.2" x2="787.40" y2="380.4" stroke="#6e6e6e" stroke-width="0.9"/>
<text x="584.0" y="223" text-anchor="end" textLength="9.0" lengthAdjust="spacingAndGlyphs">1.0</text>
<text x="787.4" y="388" text-anchor="middle" textLength="9.0" lengthAdjust="spacingAndGlyphs">1.0</text>
<text x="692.5" y="396.1" text-anchor="middle" textLength="35.1" lengthAdjust="spacingAndGlyphs">1-Specificity</text>
<text transform="translate(572.2,296.1) rotate(-90)" x="0" y="0" text-anchor="middle" textLength="32.0" lengthAdjust="spacingAndGlyphs">Sensitivity</text>
<text class="big" x="552.7" y="242.9">F</text>
</svg>
</body></html>
